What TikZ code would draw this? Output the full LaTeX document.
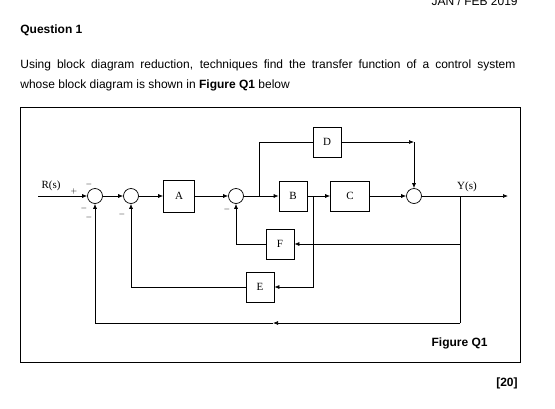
\documentclass[tikz,border=0pt]{standalone}
\usepackage{fontspec}
\setmainfont{Liberation Serif}
\setsansfont{Liberation Sans}
\usetikzlibrary{arrows.meta,positioning}

\tikzset{
  blk/.style={draw, minimum width=28pt, minimum height=30pt, inner sep=0pt, font=\fontsize{11}{12}\selectfont},
  sumj/.style={draw, circle, minimum size=15pt, inner sep=0pt},
  arr/.style={-{Latex[length=5pt,width=4pt]}},
  sgn/.style={font=\fontsize{8}{8}\selectfont, inner sep=0pt},
  txt/.style={font=\sffamily\fontsize{12}{14}\selectfont, inner sep=0pt},
  btxt/.style={txt, font=\sffamily\bfseries\fontsize{12}{14}\selectfont},
}

\begin{document}
\begin{tikzpicture}[x=1pt,y=-1pt,line width=0.7pt]
\useasboundingbox (0,0) rectangle (555,408);

% header and question text
\node[txt, anchor=base east] (hdr) at (518,5) {JAN / FEB 2019};
\node[btxt, anchor=base west] (q1) at (20,33) {Question 1};
\node[txt, anchor=base west] (p1) at (20,68) {\makebox[495pt][s]{Using block diagram reduction, techniques find the transfer function of a control system}};
\node[txt, anchor=base west] (p2) at (20,88) {whose block diagram is shown in \textbf{Figure Q1} below};
\node[btxt, anchor=base east] (mk) at (518,386) {[20]};

% frame of the figure
\draw[line width=0.8pt] (20,107) rectangle (520,362);
\node[btxt, anchor=base east] (fig) at (488,346) {Figure Q1};

% summing points and blocks
\node[sumj] (s1) at (95,196) {};
\node[sumj] (s2) at (131,196) {};
\node[blk, minimum width=31pt, minimum height=32pt] (A) at (179,196) {A};
\node[sumj] (s3) at (236,196) {};
\node[blk] (B) at (293,196) {B};
\node[blk, minimum width=39pt] (C) at (350,196) {C};
\node[blk] (D) at (327,142) {D};
\node[sumj] (s4) at (414,196) {};
\node[blk] (F) at (280,244) {F};
\node[blk] (E) at (260,287) {E};

% input, output and branch points
\coordinate (rin) at (38,196);
\coordinate (yout) at (508,196);
\coordinate (jD) at (259,196);
\coordinate (jE) at (313,196);
\coordinate (jY) at (460,196);
\coordinate (dc) at (414,142);
\coordinate (bY) at (460,323);
\coordinate (bmid) at (273,323);

\node[font=\fontsize{11}{12}\selectfont, inner sep=0pt] (rlbl) at (51,186) {R(s)};
\node[font=\fontsize{11}{12}\selectfont, inner sep=0pt] (ylbl) at (467,187) {Y(s)};

% forward path
\draw[arr] (rin) -- (s1);
\draw[arr] (s1) -- (s2);
\draw[arr] (s2) -- (A);
\draw[arr] (A) -- (s3);
\draw[arr] (s3) -- (B);
\draw[arr] (B) -- (C);
\draw[arr] (C) -- (s4);
\draw[arr] (s4) -- (yout);

% feedforward through D
\draw (jD) |- (D);
\draw[arr] (D) -- (dc);
\draw[arr] (dc) -- (s4);

% feedback loops
\draw[arr] (jY |- F) -- (F);
\draw[arr] (F) -| (s3);
\draw[arr] (jE) |- (E);
\draw[arr] (E) -| (s2);
\draw (jY) -- (bY);
\draw[arr] (bY) -- (bmid);
\draw[arr] (bmid) -| (s1);

% signs at the summing points
\foreach \n/\x/\y/\s in {a/74/191/+, b/89/184/-, c/84/208/-, d/89/217/-, e/122/214/-, f/227/209/-} {
    \node[sgn] (sg\n) at (\x,\y) {$\s$};
}
\end{tikzpicture}
\end{document}
